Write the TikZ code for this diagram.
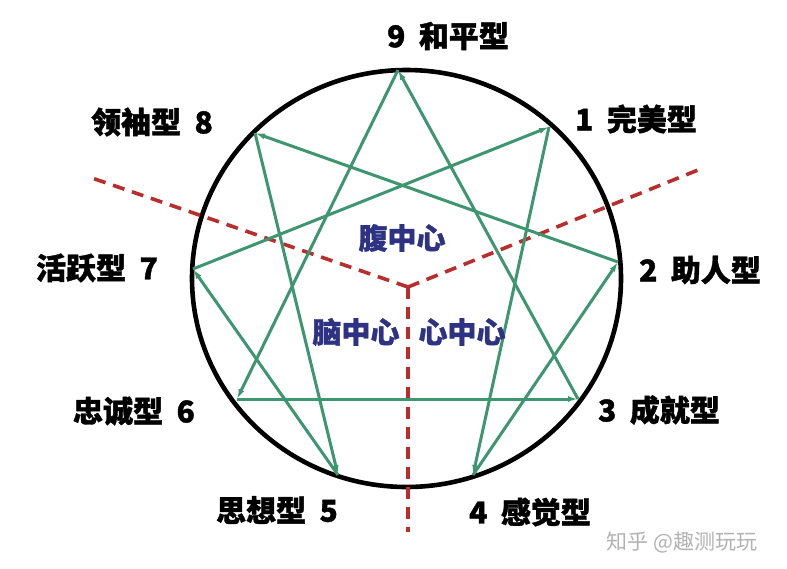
\documentclass[tikz,border=0pt]{standalone}
\usepackage{fontspec}
\setmainfont{Noto Sans CJK SC}[BoldFeatures={FakeBold=1.2}]
\usetikzlibrary{arrows.meta}
\definecolor{grn}{RGB}{62,150,112}
\definecolor{rdash}{RGB}{185,45,45}
\definecolor{navy}{RGB}{45,50,130}
\begin{document}
\begin{tikzpicture}[x=1pt,y=-1pt,
  lbl/.style={font=\fontsize{30}{30}\selectfont\bfseries, inner sep=0pt, anchor=center},
  ctr/.style={lbl, font=\fontsize{29}{29}\selectfont\bfseries, text=navy},
  edge/.style={grn, line width=3pt, -{Latex[length=10pt,width=6pt]}},
  divider/.style={rdash, line width=3.6pt, dash pattern=on 12pt off 8pt},
  ring/.style={line width=4.6pt, black}]
\useasboundingbox (0,0) rectangle (787,568);
\fill[white] (0,0) rectangle (787,568);
\coordinate (c) at (406.5,278.5);
\draw[ring] (c) ellipse [x radius=214.5pt, y radius=208.5pt];
% divider lines
\coordinate (m) at (408,287);
\coordinate (dL) at (92,178);
\coordinate (dR) at (698,170);
\coordinate (dB) at (408,532);
\draw[divider] (m) -- (dL);
\draw[divider] (m) -- (dR);
\draw[divider] (m) -- (dB);
% vertices
\coordinate (p9) at (398,70);
\coordinate (p8) at (255,133);
\coordinate (p1) at (549,127);
\coordinate (p2) at (618,262);
\coordinate (p7) at (193,269);
\coordinate (p6) at (237,399);
\coordinate (p3) at (578,399);
\coordinate (p5) at (338,475);
\coordinate (p4) at (473,475);
% lines
\draw[edge] (p9) -- (p6);
\draw[edge] (p6) -- (p3);
\draw[edge] (p3) -- (p9);
\draw[edge] (p1) -- (p4);
\draw[edge] (p4) -- (p2);
\draw[edge] (p2) -- (p8);
\draw[edge] (p8) -- (p5);
\draw[edge] (p5) -- (p7);
\draw[edge] (p7) -- (p1);
% labels
\node[lbl] (l9) at (448,36) {9\hspace{0.45em}和平型};
\node[lbl] (l1) at (636,119) {1\hspace{0.45em}完美型};
\node[lbl] (l2) at (700,270) {2\hspace{0.45em}助人型};
\node[lbl] (l3) at (659,410) {3\hspace{0.45em}成就型};
\node[lbl] (l4) at (530,512) {4\hspace{0.45em}感觉型};
\node[lbl] (l5) at (277,510) {思想型\hspace{0.45em}5};
\node[lbl] (l6) at (134,411) {忠诚型\hspace{0.45em}6};
\node[lbl] (l7) at (97,268) {活跃型\hspace{0.45em}7};
\node[lbl] (l8) at (152,122) {领袖型\hspace{0.45em}8};
\node[ctr] (cb) at (402,238) {腹中心};
\node[ctr] (ch) at (356,332) {脑中心};
\node[ctr] (cx) at (462,332) {心中心};
\node[font=\fontsize{21}{21}\selectfont, text=black!30, inner sep=0pt] (wm) at (682,542) {知乎 @趣测玩玩};
\end{tikzpicture}
\end{document}
